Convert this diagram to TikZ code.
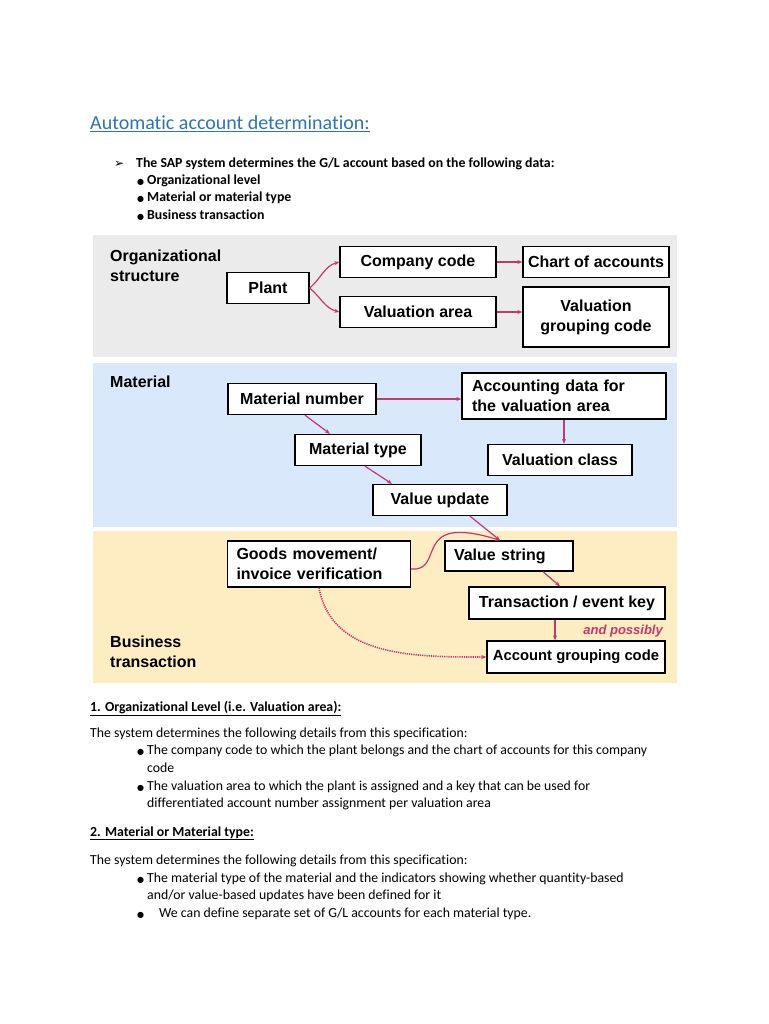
\documentclass[tikz,border=0pt]{standalone}
\usepackage{fontspec}
\setmainfont{Carlito}[Ligatures=NoCommon]
\newfontfamily\diagfont{Liberation Sans}
\newfontfamily\symfont{DejaVu Sans}
\usetikzlibrary{arrows.meta}
\definecolor{titleblue}{RGB}{46,116,181}
\definecolor{bandgray}{RGB}{235,235,235}
\definecolor{bandblue}{RGB}{218,232,251}
\definecolor{bandyellow}{RGB}{254,236,194}
\definecolor{linkpink}{RGB}{196,56,108}
\newcommand{\bul}{{\symfont\fontsize{8}{8}\selectfont ●}}
\tikzset{
  body/.style={anchor=base west, inner sep=0pt, font=\fontsize{13.8}{17}\selectfont},
  bodybold/.style={body, font=\bfseries\fontsize{13.8}{17}\selectfont},
  box/.style={draw=black, line width=1.3pt, fill=white, inner sep=0pt, font=\diagfont\bfseries\fontsize{16}{20}\selectfont},
  bandlabel/.style={anchor=north west, inner sep=0pt, align=left, font=\diagfont\bfseries\fontsize{16}{19.5}\selectfont},
  link/.style={draw=linkpink, line width=1.2pt, -{Stealth[length=5pt,width=4pt]}}
}
\begin{document}
\begin{tikzpicture}[x=1pt,y=-1pt]
\fill[white] (0,0) rectangle (768,1024);
\useasboundingbox (0,0) rectangle (768,1024);
\node[body, font=\fontsize{20}{24}\selectfont, text=titleblue] (title) at (90,130) {\underline{Automatic account determination:}};
\node[body] (arrowmark) at (114,168) {\symfont\fontsize{12}{12}\selectfont ➢};
\node[bodybold] (intro) at (136,168) {The SAP system determines the G/L account based on the following data:};
\node[bodybold] (dataA) at (137,185) {\makebox[10pt][l]{\bul}Organizational level};
\node[bodybold] (dataB) at (137,202) {\makebox[10pt][l]{\bul}Material or material type};
\node[bodybold] (dataC) at (137,219) {\makebox[10pt][l]{\bul}Business transaction};
\fill[bandgray] (93,235) rectangle (677,357);
\fill[bandblue] (93,363) rectangle (677,527);
\fill[bandyellow] (93,531) rectangle (677,683);
\node[bandlabel] (orglabel) at (110,250) {Organizational\\structure};
\node[box, minimum width=82pt, minimum height=31pt] (plant) at (268,288) {Plant};
\node[box, minimum width=156pt, minimum height=31pt] (compcode) at (418,262) {Company code};
\node[box, minimum width=156pt, minimum height=31pt] (valarea) at (418,312) {Valuation area};
\node[box, minimum width=146pt, minimum height=31pt] (chart) at (596,262) {Chart of accounts};
\node[box, minimum width=146pt, minimum height=60pt, align=center] (valgroup) at (596,317) {Valuation\\grouping code};
\node[bandlabel] (matlabel) at (110,376) {Material};
\node[box, minimum width=148pt, minimum height=31pt] (matnum) at (302,399) {Material number};
\node[box, minimum width=204pt, minimum height=46pt, text width=184pt, align=left] (accdata) at (564,396) {Accounting data for\\the valuation area};
\node[box, minimum width=144pt, minimum height=31pt] (valclass) at (560,460) {Valuation class};
\node[box, minimum width=126pt, minimum height=31pt] (mattype) at (358,450) {Material type};
\node[box, minimum width=134pt, minimum height=31pt] (valupd) at (440,500) {Value update};
\node[bandlabel] (buslabel) at (110,636) {Business\\transaction};
\node[box, minimum width=183pt, minimum height=46pt, text width=165pt, align=left] (goods) at (319,564) {Goods movement/\\invoice verification};
\node[box, minimum width=128pt, minimum height=30pt, text width=110pt, align=left] (valstr) at (509,556) {Value string};
\node[box, minimum width=196pt, minimum height=32pt] (transkey) at (567,603) {Transaction / event key};
\node[box, minimum width=178pt, minimum height=32pt, font=\diagfont\bfseries\fontsize{14.8}{18}\selectfont] (accgroup) at (576,657) {Account grouping code};
\node[anchor=base east, inner sep=0pt, text=linkpink, font=\diagfont\bfseries\itshape\fontsize{13}{15}\selectfont] (possibly) at (663,634) {and possibly};
\draw[link] (plant.east) to[out=40,in=195] (compcode.west);
\draw[link] (plant.east) to[out=-40,in=165] (valarea.west);
\draw[link] (compcode) -- (chart);
\draw[link] (valarea) -- (valarea -| valgroup.west);
\draw[link] (matnum) -- (matnum -| accdata.west);
\draw[link] ([xshift=3pt]matnum.south) -- ([xshift=-28pt]mattype.north);
\draw[link] ([xshift=7pt]mattype.south) -- ([xshift=-48pt]valupd.north);
\draw[link] (accdata.south) -- (accdata.south |- valclass.north);
\coordinate (vsin) at ([xshift=-9pt]valstr.north);
\draw[link] ([xshift=30pt]valupd.south) -- (vsin);
\draw[link] ([yshift=-5pt]goods.east) .. controls +(35,3) and +(-90,-28) .. (vsin);
\draw[link] ([xshift=34pt]valstr.south) -- ([xshift=-7pt]transkey.north);
\coordinate (tkout) at ([xshift=-12pt]transkey.south);
\draw[link] (tkout) -- (tkout |- accgroup.north);
\draw[link, densely dotted, line width=1.6pt] (goods.south) to[out=-80,in=180] (accgroup.west);
\node[bodybold] (headA) at (90,711) {\underline{1. Organizational Level (i.e. Valuation area):}};
\node[body] (specA) at (90,737) {The system determines the following details from this specification:};
\node[body] (itemA1) at (137,754) {\makebox[10pt][l]{\bul}The company code to which the plant belongs and the chart of accounts for this company};
\node[body] (itemA1b) at (147,772) {code};
\node[body] (itemA2) at (137,790) {\makebox[10pt][l]{\bul}The valuation area to which the plant is assigned and a key that can be used for};
\node[body] (itemA2b) at (147,807) {differentiated account number assignment per valuation area};
\node[bodybold] (headB) at (90,836) {\underline{2. Material or Material type:}};
\node[body] (specB) at (90,864) {The system determines the following details from this specification:};
\node[body] (itemB1) at (137,882) {\makebox[10pt][l]{\bul}The material type of the material and the indicators showing whether quantity-based};
\node[body] (itemB1b) at (147,899) {and/or value-based updates have been defined for it};
\node[body] (itemB2) at (137,917) {\makebox[22pt][l]{\bul}We can define separate set of G/L accounts for each material type.};
\end{tikzpicture}
\end{document}
